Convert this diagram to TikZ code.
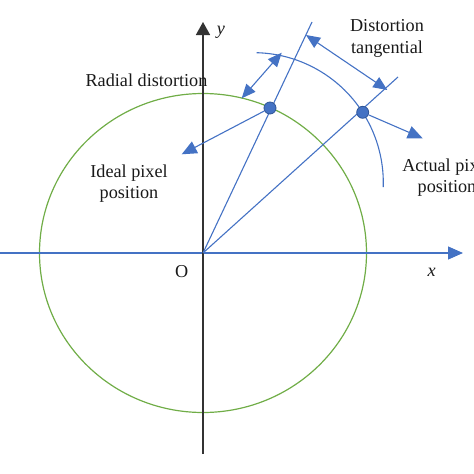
\documentclass[tikz,border=0pt]{standalone}
\usepackage{fontspec}
\setmainfont{Liberation Serif}
\usetikzlibrary{arrows.meta}
\definecolor{lblue}{HTML}{4472C4}
\definecolor{dblue}{HTML}{2F5597}
\definecolor{lgreen}{HTML}{70AD47}
\definecolor{axgray}{HTML}{333333}
\begin{document}
\begin{tikzpicture}[x=1pt,y=-1pt,
  bl/.style={draw=lblue,line width=1.1pt},
  tipend/.style={-{Triangle[length=15pt,width=13pt]}},
  dbl/.style={{Triangle[length=14pt,width=12pt]}-{Triangle[length=14pt,width=12pt]}},
  lbl/.style={font=\fontsize{18.2}{21.5}\selectfont,align=center,inner sep=0pt,text=black!90},
  dotnode/.style={circle,fill=lblue,draw=dblue,line width=0.8pt,minimum size=12pt,inner sep=0pt}]
\useasboundingbox (0,0) rectangle (474,474);
\clip (0,0) rectangle (474,474);
% coordinates
\coordinate (O) at (203,253);
\coordinate (xs) at (0,253);
\coordinate (xe) at (463,253);
\coordinate (ys) at (203,454);
\coordinate (ye) at (203,22);
\coordinate (r1) at (312,22);
\coordinate (r2) at (398,77);
\coordinate (arcA) at (256.7,52.7);
\coordinate (a1) at (181.7,154.3);
\coordinate (a2) at (422.7,138.3);
\coordinate (rdA) at (241.7,98.3);
\coordinate (rdB) at (281.7,52.7);
\coordinate (tdA) at (306,35);
\coordinate (tdB) at (387.3,90);
% circle
\draw[lgreen,line width=1.2pt] (O) ellipse [x radius=163.5, y radius=159.5];
% axes
\draw[bl,tipend] (xs) -- (xe);
\draw[axgray,line width=1.6pt,-{Triangle[length=13pt,width=14pt]}] (ys) -- (ye);
% radial lines and arc
\draw[bl] (O) -- (r1);
\draw[bl] (O) -- (r2);
\draw[bl] (arcA) arc[start angle=-88.5, end angle=2, radius=130];
% dots
\node[dotnode] (d1) at (270,108) {};
\node[dotnode] (d2) at (362.7,112.3) {};
% arrows
\draw[bl,tipend] (d1) -- (a1);
\draw[bl,tipend] (d2) -- (a2);
\draw[bl,dbl] (rdA) -- (rdB);
\draw[bl,dbl] (tdA) -- (tdB);
% labels
\node[lbl,anchor=base] (trad) at (146.5,86) {Radial distortion};
\node[lbl] (tideal) at (129,183.5) {Ideal pixel\\position};
\node[lbl] (ttan) at (387,38.4) {Distortion\\tangential};
\node[lbl] (tact) at (447,177.4) {Actual pixel\\position};
\node[lbl] (tO) at (181.7,271.7) {O};
\node[lbl] (tx) at (431.7,272.7) {\textit{x}};
\node[lbl] (ty) at (221,32) {\textit{y}};
\end{tikzpicture}
\end{document}
